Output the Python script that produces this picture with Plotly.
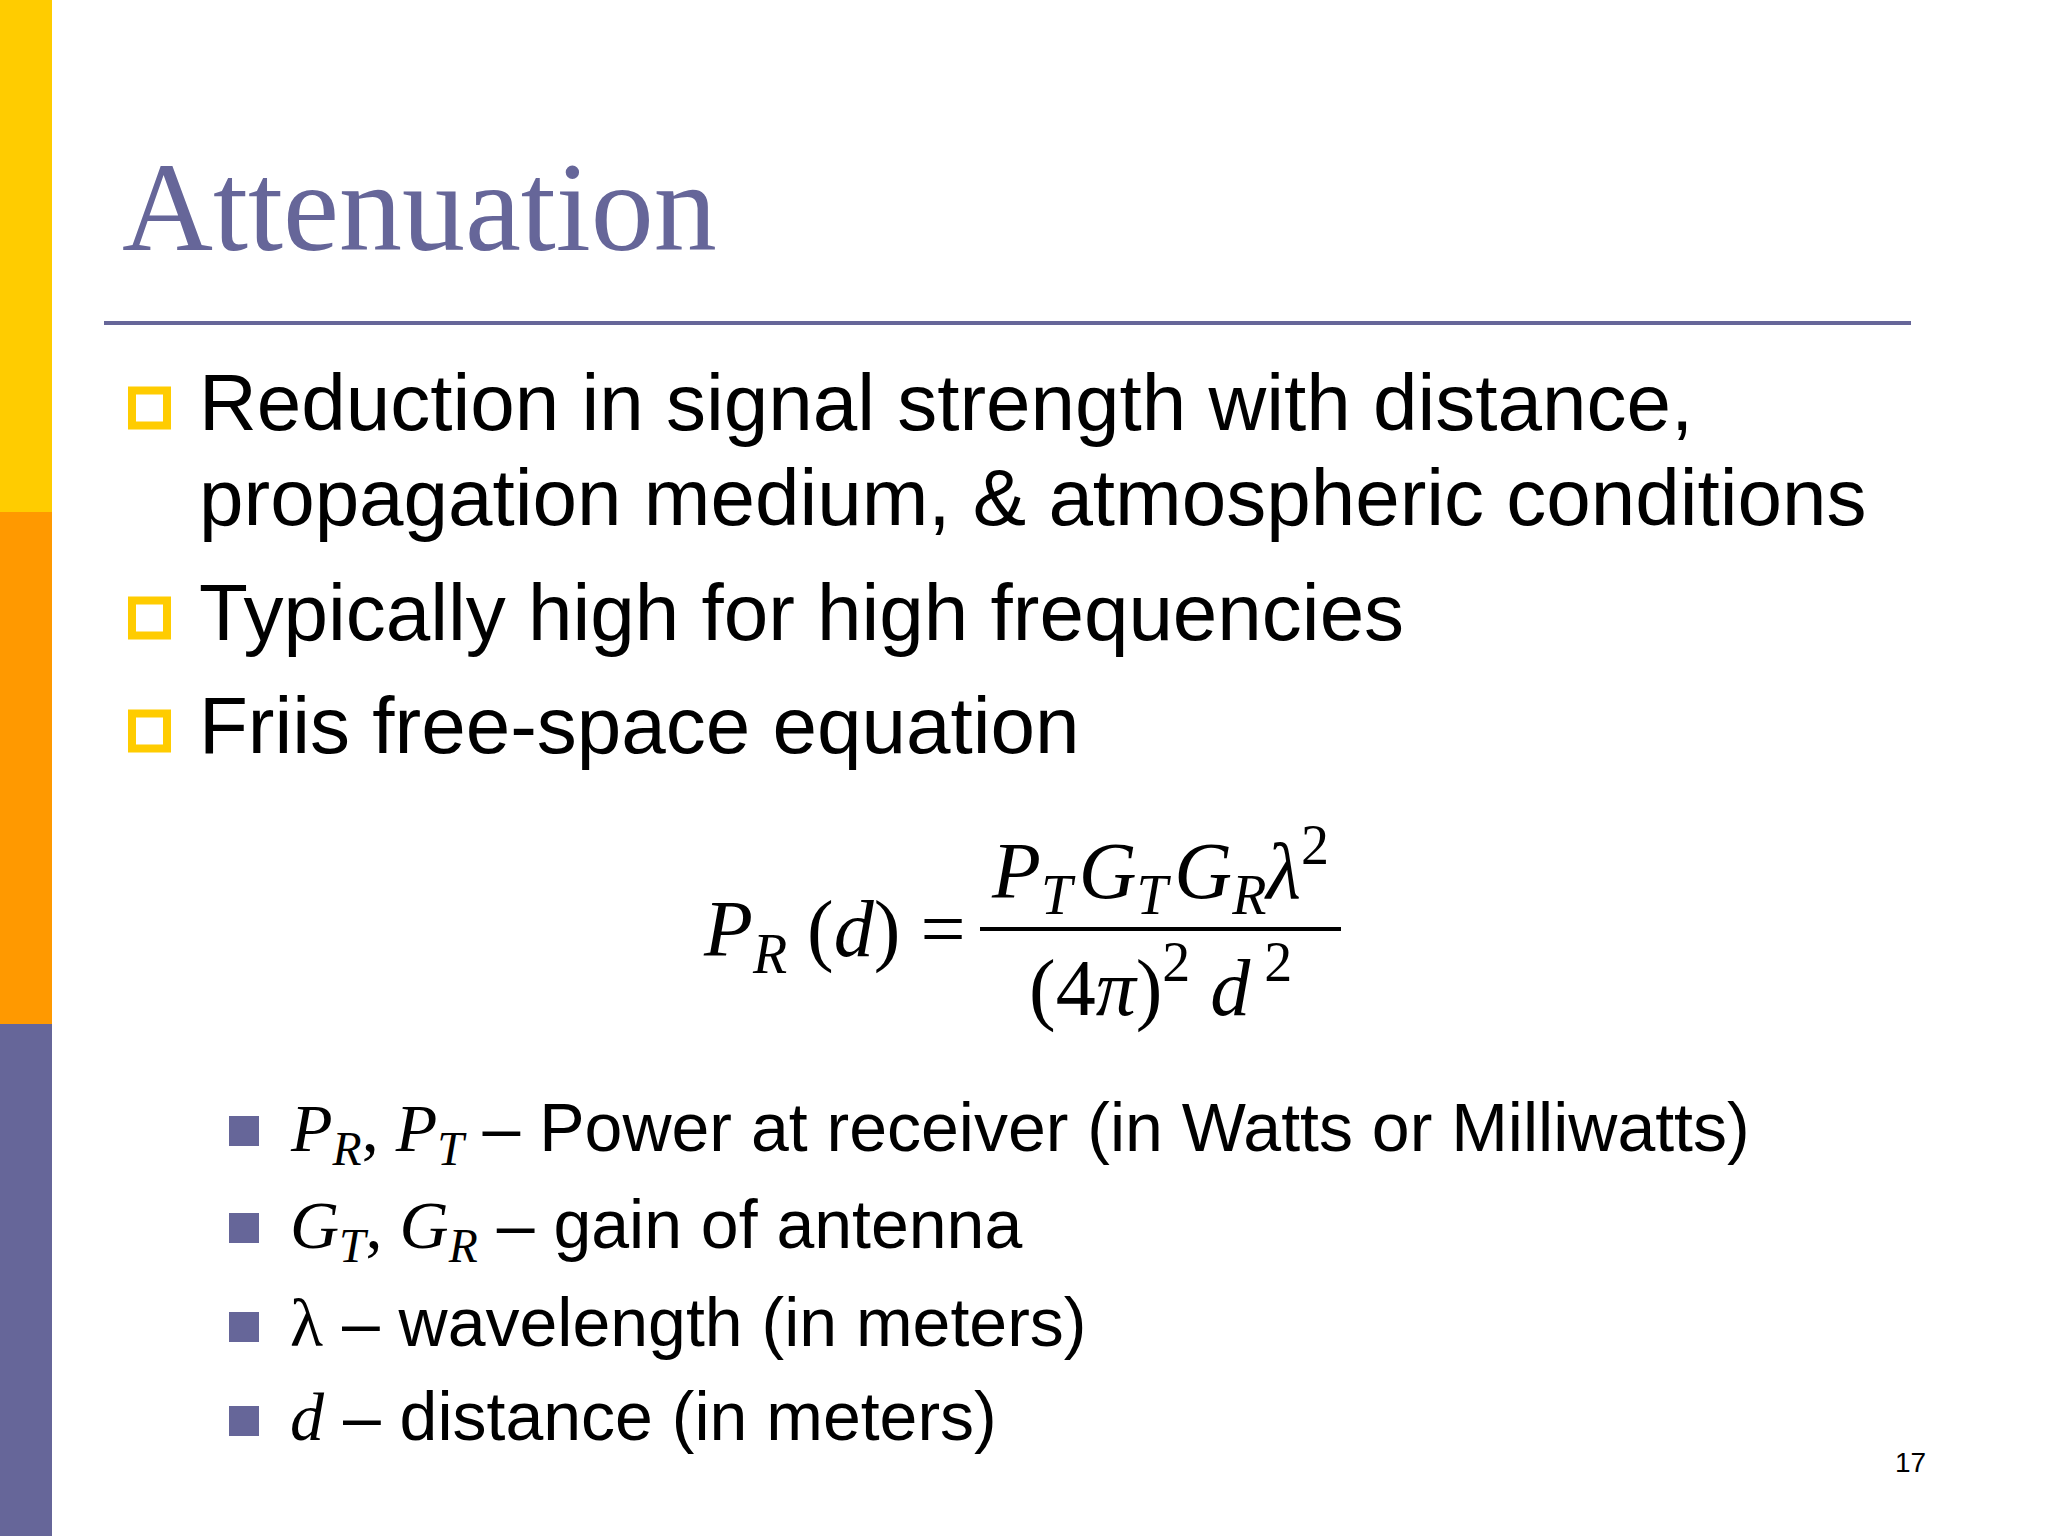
import plotly.graph_objects as go

W, H = 2048, 1536

# slide content
title = "Attenuation"
bullet_lines = [
    "Reduction in signal strength with distance,",
    "propagation medium, &amp; atmospheric conditions",
    "Typically high for high frequencies",
    "Friis free-space equation",
]
bullet_baselines = [430, 525, 640, 753]
bullet_marks = [True, False, True, True]

SERIF = "Liberation Serif"
SANS = "Liberation Sans"
HAIR = "\u200a"


def it(s):
    return '<span style="font-family:%s"><i>%s</i></span>' % (SERIF, s)


comma = '<span style="font-family:%s">, </span>' % SERIF
sub_items = [
    it("P") + "<sub>" + it("R") + "</sub>" + comma
    + it("P") + "<sub>" + it("T") + "</sub> – Power at receiver (in Watts or Milliwatts)",
    it("G") + "<sub>" + it("T") + "</sub>" + comma
    + it("G") + "<sub>" + it("R") + "</sub> – gain of antenna",
    '<span style="font-family:%s">λ</span> – wavelength (in meters)' % SERIF,
    it("d") + " – distance (in meters)",
]
sub_baselines = [1150, 1247, 1346, 1440]
sub_has_sub = [True, True, False, False]

eq_lhs = it("P") + "<sub>" + it("R") + "</sub> (" + it("d") + ") ="
eq_num = (it("P") + "<sub>" + it("T") + "</sub>" + HAIR + it("G") + "<sub>" + it("T") + "</sub>" + HAIR
          + it("G") + "<sub>" + it("R") + "</sub>" + it("λ") + "<sup>2</sup>")
eq_den = "(4" + it("π") + ")<sup>2</sup> " + it("d") + "<sup> 2</sup>"

sidebar_colors = ["#FFCC00", "#FF9900", "#666699"]
page_number = "17"

TITLE_COLOR = "#666699"
YELLOW = "#FFCC00"

fig = go.Figure()
shapes = []
annotations = []

# left colour strip
seg = H / len(sidebar_colors)
for i, c in enumerate(sidebar_colors):
    shapes.append(dict(type="rect", xref="x", yref="y", x0=0, x1=52,
                       y0=i * seg, y1=(i + 1) * seg, fillcolor=c, line_width=0))

# title + rule
annotations.append(dict(x=122, y=250 - 0.3375 * 126, text=title, xanchor="left", yanchor="middle",
                        font=dict(family=SERIF, size=126, color=TITLE_COLOR)))
shapes.append(dict(type="line", xref="x", yref="y", x0=104, x1=1911, y0=323, y1=323,
                   line=dict(color=TITLE_COLOR, width=4)))

# main bullets
for txt, base, mark in zip(bullet_lines, bullet_baselines, bullet_marks):
    annotations.append(dict(x=199, y=base - 0.347 * 80, text=txt, xanchor="left", yanchor="middle",
                            font=dict(family=SANS, size=80, color="black")))
    if mark:
        c = base - 22
        shapes.append(dict(type="rect", xref="x", yref="y", x0=132, x1=167, y0=c - 17.5, y1=c + 17.5,
                           line=dict(color=YELLOW, width=8), fillcolor="rgba(0,0,0,0)"))

# equation
s_eq = 80
annotations.append(dict(x=966, y=956 - 0.265 * s_eq, text=eq_lhs, xanchor="right", yanchor="middle",
                        font=dict(family=SERIF, size=s_eq, color="black")))
annotations.append(dict(x=1160, y=897 - 0.342 * s_eq, text=eq_num, xanchor="center", yanchor="middle",
                        font=dict(family=SERIF, size=s_eq, color="black")))
annotations.append(dict(x=1160, y=1015 - 0.414 * s_eq, text=eq_den, xanchor="center", yanchor="middle",
                        font=dict(family=SERIF, size=s_eq, color="black")))
shapes.append(dict(type="line", xref="x", yref="y", x0=980, x1=1341, y0=929, y1=929,
                   line=dict(color="black", width=4)))

# sub bullets
s_sub = 68
for txt, base, hs in zip(sub_items, sub_baselines, sub_has_sub):
    off = 0.272 if hs else 0.347
    annotations.append(dict(x=290, y=base - off * s_sub, text=txt, xanchor="left", yanchor="middle",
                            font=dict(family=SANS, size=s_sub, color="black")))
    c = base - 19
    shapes.append(dict(type="rect", xref="x", yref="y", x0=229, x1=259, y0=c - 15, y1=c + 15,
                       fillcolor=TITLE_COLOR, line_width=0))

# page number
annotations.append(dict(x=1895, y=1472 - 0.347 * 28, text=page_number, xanchor="left", yanchor="middle",
                        font=dict(family=SANS, size=28, color="black")))

for a in annotations:
    a.update(xref="x", yref="y", showarrow=False, borderpad=0, borderwidth=0)

fig.update_layout(
    width=W, height=H,
    margin=dict(l=0, r=0, t=0, b=0),
    paper_bgcolor="white", plot_bgcolor="white",
    xaxis=dict(range=[0, W], visible=False, fixedrange=True),
    yaxis=dict(range=[H, 0], visible=False, fixedrange=True),
    shapes=shapes, annotations=annotations,
    showlegend=False,
)

# page body has a default 8px margin, drop it so the slide fills the window
fig.write_html("out.html", config={"displayModeBar": False},
               post_script="document.body.style.margin='0';")
